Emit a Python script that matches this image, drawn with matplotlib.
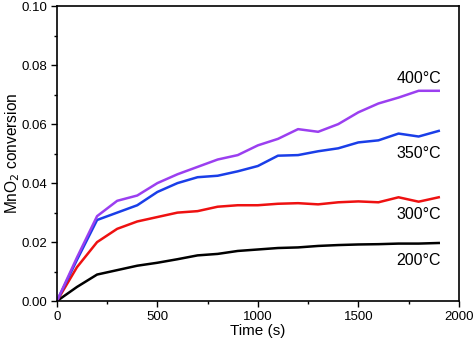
import matplotlib
matplotlib.use("Agg")
import matplotlib.pyplot as plt
from matplotlib.ticker import MultipleLocator

plt.rcParams["font.family"] = ["Liberation Sans", "DejaVu Sans"]

time_s = [0, 100, 200, 300, 400, 500, 600, 700, 800, 900, 1000,
          1100, 1200, 1300, 1400, 1500, 1600, 1700, 1800, 1900]

conv_200 = [0.0, 0.0048, 0.0090, 0.0105, 0.0120, 0.0130, 0.0142, 0.0155, 0.0160, 0.0170, 0.0175,
            0.0180, 0.0182, 0.0187, 0.0190, 0.0192, 0.0193, 0.0195, 0.0195, 0.0197]
conv_300 = [0.0, 0.0115, 0.0200, 0.0245, 0.0270, 0.0285, 0.0300, 0.0305, 0.0320, 0.0325, 0.0325,
            0.0330, 0.0332, 0.0328, 0.0335, 0.0338, 0.0335, 0.0352, 0.0337, 0.0352]
conv_350 = [0.0, 0.0140, 0.0275, 0.0300, 0.0325, 0.0370, 0.0400, 0.0420, 0.0425, 0.0440, 0.0458,
            0.0493, 0.0495, 0.0508, 0.0518, 0.0538, 0.0545, 0.0568, 0.0558, 0.0577]
conv_400 = [0.0, 0.0148, 0.0288, 0.0340, 0.0358, 0.0400, 0.0430, 0.0455, 0.0480, 0.0495, 0.0528,
            0.0550, 0.0583, 0.0574, 0.0600, 0.0640, 0.0670, 0.0690, 0.0713, 0.0713]

series = [
    ("200°C", conv_200, "black", 0.0136),
    ("300°C", conv_300, "#ee1111", 0.0292),
    ("350°C", conv_350, "#1a3ee8", 0.0502),
    ("400°C", conv_400, "#9b3ff0", 0.0756),
]

fig = plt.figure(figsize=(4.74, 3.41), dpi=100)
ax = fig.add_axes([0.120, 0.117, 0.848, 0.865])

for label, y, color, ly in series:
    ax.plot(time_s, y, color=color, linewidth=1.8)
    ax.text(1800, ly, label, ha="center", va="center", fontsize=11.5)

ax.set_xlim(0, 2000)
ax.set_ylim(0, 0.10)
ax.xaxis.set_major_locator(MultipleLocator(500))
ax.xaxis.set_minor_locator(MultipleLocator(250))
ax.yaxis.set_major_locator(MultipleLocator(0.02))
ax.yaxis.set_minor_locator(MultipleLocator(0.01))
ax.yaxis.set_major_formatter(plt.FormatStrFormatter("%.2f"))
ax.tick_params(which="both", direction="out", top=False, right=False, labelsize=9.5, width=1, pad=3)
ax.tick_params(which="major", length=4)
ax.tick_params(which="minor", length=2.5)
for s in ax.spines.values():
    s.set_linewidth(1.2)

ax.set_xlabel("Time (s)", fontsize=11, labelpad=1)
ax.set_ylabel("MnO$_2$ conversion", fontsize=11.2)
ax.yaxis.set_label_coords(-0.088, 0.5)

fig.savefig("out.png", dpi=100)
